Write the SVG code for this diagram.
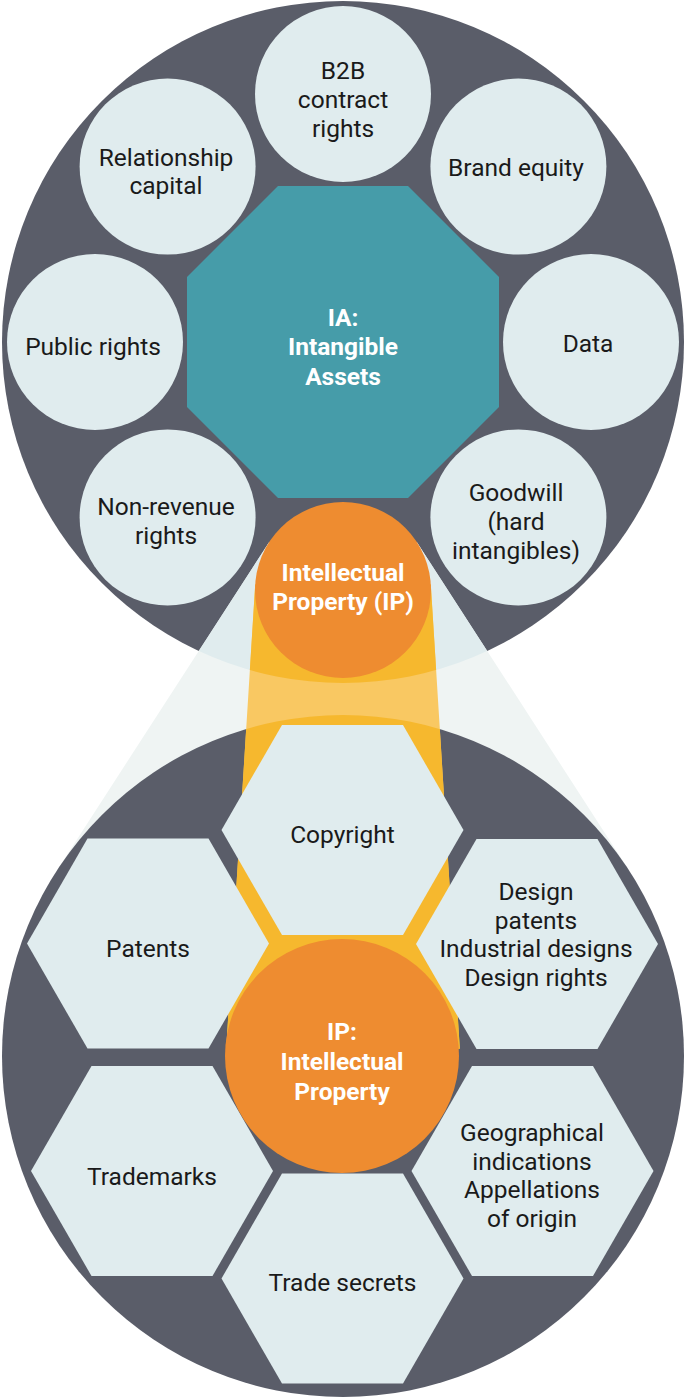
<svg xmlns="http://www.w3.org/2000/svg" xmlns:xlink="http://www.w3.org/1999/xlink" width="685" height="1397" viewBox="0 0 685 1397">
<style>
.bg{fill:#5a5d69}
.lt{fill:#e0ecee}
.t{font-family:Roboto,"Liberation Sans",sans-serif;font-size:24.5px;fill:#1a1a1a;text-anchor:middle}
.w{font-family:Roboto,"Liberation Sans",sans-serif;font-size:24.5px;font-weight:bold;fill:#ffffff;text-anchor:middle}
.or{fill:#ee8c30}
.teal{fill:#469ca9}
</style>
<defs>
<clipPath id="topClip"><circle cx="343" cy="342" r="341"/></clipPath>
<clipPath id="botClip"><circle cx="343" cy="1056" r="341"/></clipPath>
<polygon id="hex" points="-121,0 -60.5,-105 60.5,-105 121,0 60.5,105 -60.5,105"/>
</defs>
<rect width="685" height="1397" fill="#ffffff"/>
<g id="top-circle"><circle class="bg" cx="343" cy="342" r="341"/></g>
<g id="connectors">
<polygon points="269.1,542.2 416.9,542.2 629.4,870.9 56.6,870.9" fill="#eff4f3"/>
<polygon points="269.1,542.2 416.9,542.2 629.4,870.9 56.6,870.9" fill="#e0ecee" clip-path="url(#topClip)"/>
</g>
<g id="bottom-circle"><circle class="bg" cx="343" cy="1056" r="341"/></g>
<g id="ip-beam">
<polygon points="255.2,584.5 430.8,584.5 459.8,1048.7 226.2,1048.7" fill="#f9c862"/>
<polygon points="255.2,584.5 430.8,584.5 459.8,1048.7 226.2,1048.7" fill="#f6b82e" clip-path="url(#topClip)"/>
<polygon points="255.2,584.5 430.8,584.5 459.8,1048.7 226.2,1048.7" fill="#f6b82e" clip-path="url(#botClip)"/>
</g>
<g id="node-b2b"><circle class="lt" cx="343" cy="94" r="88"/><text class="t" x="343" y="79">B2B</text><text class="t" x="343" y="108">contract</text><text class="t" x="343" y="137">rights</text></g>
<g id="node-relationship"><circle class="lt" cx="167.6" cy="166.6" r="88"/><text class="t" x="166" y="166">Relationship</text><text class="t" x="166" y="194">capital</text></g>
<g id="node-brand"><circle class="lt" cx="518.4" cy="166.6" r="88"/><text class="t" x="516" y="176">Brand equity</text></g>
<g id="node-public"><circle class="lt" cx="95" cy="342" r="88"/><text class="t" x="93" y="355">Public rights</text></g>
<g id="node-data"><circle class="lt" cx="591" cy="342" r="88"/><text class="t" x="588" y="352">Data</text></g>
<g id="node-nonrevenue"><circle class="lt" cx="167.6" cy="517.4" r="88"/><text class="t" x="166" y="515">Non-revenue</text><text class="t" x="166" y="544">rights</text></g>
<g id="node-goodwill"><circle class="lt" cx="518.4" cy="517.4" r="88"/><text class="t" x="516" y="501">Goodwill</text><text class="t" x="516" y="530">(hard</text><text class="t" x="516" y="559">intangibles)</text></g>
<g id="node-ia"><polygon class="teal" points="278,186 408,186 499,277 499,407 408,498 278,498 187,407 187,277"/><text class="w" x="343" y="326">IA:</text><text class="w" x="343" y="355">Intangible</text><text class="w" x="343" y="385">Assets</text></g>
<g id="node-ip-top"><circle class="or" cx="343" cy="590" r="88"/><text class="w" x="343" y="581">Intellectual</text><text class="w" x="343" y="610">Property (IP)</text></g>
<g id="node-copyright"><use href="#hex" class="lt" x="342.5" y="830"/><text class="t" x="342.5" y="843">Copyright</text></g>
<g id="node-patents"><use href="#hex" class="lt" x="148" y="943.5"/><text class="t" x="148" y="957">Patents</text></g>
<g id="node-design"><use href="#hex" class="lt" x="537" y="944"/><text class="t" x="536" y="900">Design</text><text class="t" x="536" y="929">patents</text><text class="t" x="536" y="957">Industrial designs</text><text class="t" x="536" y="986">Design rights</text></g>
<g id="node-trademarks"><use href="#hex" class="lt" x="152" y="1171"/><text class="t" x="152" y="1185">Trademarks</text></g>
<g id="node-geo"><use href="#hex" class="lt" x="532.5" y="1171"/><text class="t" x="532" y="1141">Geographical</text><text class="t" x="532" y="1170">indications</text><text class="t" x="532" y="1198">Appellations</text><text class="t" x="532" y="1227">of origin</text></g>
<g id="node-tradesecrets"><use href="#hex" class="lt" x="342.5" y="1278.5"/><text class="t" x="342.5" y="1291">Trade secrets</text></g>
<g id="node-ip-bottom"><circle class="or" cx="342" cy="1056" r="117"/><text class="w" x="342" y="1040">IP:</text><text class="w" x="342" y="1070">Intellectual</text><text class="w" x="342" y="1100">Property</text></g>
</svg>
